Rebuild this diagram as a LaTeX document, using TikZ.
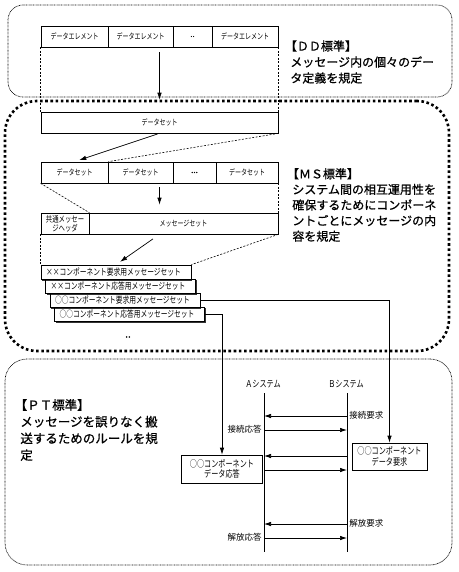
\documentclass[tikz,border=0pt]{standalone}
\usepackage{fontspec}
\newfontfamily\jpfont{Noto Sans CJK JP}
\newfontfamily\jpheavy[FakeBold=0.8]{Noto Sans CJK JP}
\newfontfamily\jpnarrow[FakeStretch=0.75]{Noto Sans CJK JP}
\usetikzlibrary{arrows.meta, shadows}
\begin{document}
\begin{tikzpicture}[
  x = 1pt, y = -1pt,
  cell/.style = {
    draw,
    minimum height = 21pt,
    inner sep = 0pt,
    font = \jpnarrow\fontsize{8}{9}\selectfont
  },
  msgset/.style = {
    draw,
    fill = white,
    minimum height = 14.5pt,
    inner xsep = 5pt,
    inner ysep = 0pt,
    text width = 140pt,
    align = left,
    font = \jpnarrow\fontsize{9}{10}\selectfont,
    drop shadow = {shadow xshift = 1.3pt, shadow yshift = -1.3pt, fill = black, opacity = 0.8}
  },
  compbox/.style = {
    draw,
    inner sep = 0pt,
    align = center,
    font = \jpnarrow\fontsize{9.5}{10.5}\selectfont
  },
  lbl/.style = {
    inner sep = 1pt,
    font = \jpfont\fontsize{8.5}{10}\selectfont
  },
  sysname/.style = {
    inner sep = 1pt,
    font = \jpnarrow\fontsize{9.5}{10}\selectfont
  },
  note/.style = {
    align = left,
    inner sep = 0pt,
    font = \jpheavy\fontsize{12}{16}\selectfont
  },
  stdframe/.style = {
    draw,
    line width = 0.7pt,
    dash pattern = on 0.7pt off 0.7pt
  },
  guide/.style = {
    line width = 0.6pt,
    dash pattern = on 2pt off 1.5pt
  },
  flow/.style = {
    -{Latex[length = 7pt, width = 4.5pt]}
  },
  every path/.style = {
    line width = 0.7pt
  }
]
  \useasboundingbox (0, 0) rectangle (458, 572);

  % the three standards
  \node[stdframe, rounded corners = 15pt, minimum width = 444pt, minimum height = 92pt] (dd) at (230, 51) {};
  \node[draw, rounded corners = 32pt, line width = 2.6pt, dash pattern = on 2.6pt off 2.6pt,
        minimum width = 444pt, minimum height = 250pt] (ms) at (227, 226) {};
  \node[stdframe, rounded corners = 22pt, minimum width = 447pt, minimum height = 206pt] (pt) at (228.5, 462) {};

  \node[note, anchor = west] (ddnote) at (290, 62) {\kern-.45em【ＤＤ標準】\\メッセージ内の個々のデー\\タ定義を規定};
  \node[note, anchor = west, font = \jpheavy\fontsize{12}{15.6}\selectfont] (msnote) at (292, 205)
    {\kern-.45em【ＭＳ標準】\\システム間の相互運用性を\\確保するためにコンポーネ\\ントごとにメッセージの内\\容を規定};
  \node[note, anchor = west, font = \jpheavy\fontsize{12.5}{16.7}\selectfont] (ptnote) at (20, 430)
    {\kern-.45em【ＰＴ標準】\\メッセージを誤りなく搬\\送するためのルールを規\\定};

  % data elements
  \node[cell, minimum width = 67pt] (de1) at (74.5, 36.5) {データエレメント};
  \node[cell, minimum width = 65pt] (de2) at (140.5, 36.5) {データエレメント};
  \node[cell, minimum width = 39pt] (dedots) at (192.5, 36.5) {\jpheavy ..};
  \node[cell, minimum width = 66pt] (de3) at (245, 36.5) {データエレメント};

  % data sets
  \node[cell, minimum width = 237pt] (ds) at (159.5, 122.5) {データセット};
  \node[cell, minimum width = 67pt] (dsa) at (74.5, 172.5) {データセット};
  \node[cell, minimum width = 65pt] (dsb) at (140.5, 172.5) {データセット};
  \node[cell, minimum width = 43pt] (dsdots) at (194.5, 172.5) {\jpheavy ...};
  \node[cell, minimum width = 62pt] (dsc) at (247, 172.5) {データセット};

  % message set
  \node[cell, minimum width = 48pt, align = center, font = \jpnarrow\fontsize{8.5}{9}\selectfont] (hdr) at (65, 223.5) {共通メッセー\\ジヘッダ};
  \node[cell, minimum width = 189pt] (msg) at (183.5, 223.5) {メッセージセット};

  \node[msgset] (box4) at (129.5, 314.25) {○○コンポーネント応答用メッセージセット};
  \node[msgset] (box3) at (125, 300.25) {○○コンポーネント要求用メッセージセット};
  \node[msgset] (box2) at (120.5, 286.25) {××コンポーネント応答用メッセージセット};
  \node[msgset] (box1) at (116, 272.25) {××コンポーネント要求用メッセージセット};
  \node[font = \jpheavy\fontsize{10}{10}\selectfont] (boxdots) at (128, 337) {..};

  \draw[guide] (de1.south west) -- (ds.north west);
  \draw[guide] (de3.south east) -- (ds.north east);
  \draw[guide] (ds.south east) -- (dsa.north east);
  \draw[guide] (dsa.south west) -- (hdr.north east);
  \draw[guide] (dsc.south east) -- (msg.north east);
  \draw[guide] (hdr.south west) -- (box1.north west);
  \draw[guide] (msg.south east) -- (box1.north east);

  \draw[flow, shorten <= 5pt] (ds.north |- de2.south) -- (ds.north |- ms.north);
  \draw[flow, shorten <= 2pt, shorten >= 5pt] (ds.south) -- (dsa.north);
  \draw[flow, shorten <= 4pt, shorten >= 8pt] (ds.south |- dsa.south) -- (ds.south |- hdr.north);
  \draw[flow, shorten <= 8pt, shorten >= 5pt] (ds.south |- msg.south) -- (box1.north);

  % transfer between A and B
  \node[compbox, minimum width = 81pt, minimum height = 28pt] (resbox) at (222, 469) {○○コンポーネント\\データ応答};
  \node[compbox, minimum width = 75pt, minimum height = 27pt] (reqbox) at (389.5, 456.5) {○○コンポーネント\\データ要求};

  \draw[flow] (box3.east) -| (reqbox.north);
  \draw[flow] (box4.east) -| (resbox.north);

  \coordinate (atop) at (264, 393);
  \coordinate (abot) at (264, 552);
  \coordinate (btop) at (347, 393);
  \coordinate (bbot) at (347, 552);
  \node[sysname] (asys) at (263, 384) {Ａシステム};
  \node[sysname] (bsys) at (346, 384) {Ｂシステム};
  \draw (atop) -- (abot);
  \draw (btop) -- (bbot);

  \draw[flow] (btop |- 0, 416) -- (atop |- 0, 416);
  \draw[flow] (atop |- 0, 430) -- (btop |- 0, 430);
  \draw[flow] (btop |- 0, 456) -- (atop |- 0, 456);
  \draw[flow] (atop |- 0, 470) -- (btop |- 0, 470);
  \draw[flow] (btop |- 0, 524) -- (atop |- 0, 524);
  \draw[flow] (atop |- 0, 538) -- (btop |- 0, 538);

  \node[lbl, anchor = west] (conreq) at (348, 415) {接続要求};
  \node[lbl, anchor = east] (conres) at (263, 429) {接続応答};
  \node[lbl, anchor = west] (relreq) at (348, 523) {解放要求};
  \node[lbl, anchor = east] (relres) at (263, 537) {解放応答};
\end{tikzpicture}
\end{document}
